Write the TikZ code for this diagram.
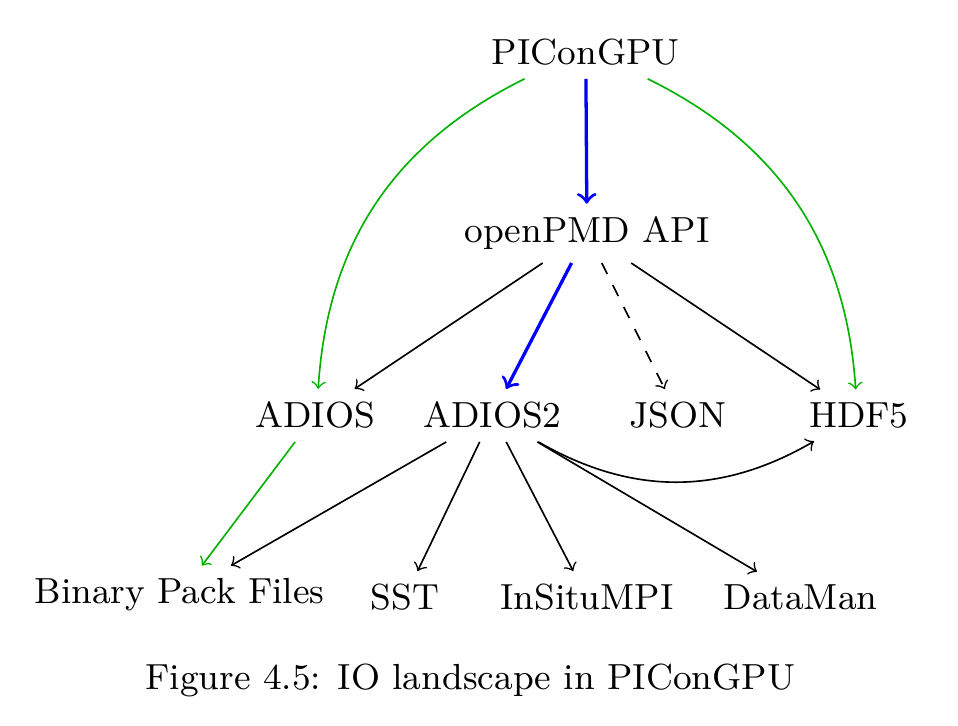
\documentclass[tikz,border=0pt]{standalone}
\usepackage{tikz}
\usetikzlibrary{arrows, positioning}

\begin{document}
\begin{tikzpicture}[
   every node/.style = {font=\fontsize{8.85}{11}\selectfont},
   lib/.style = {inner sep=3pt},
   line/.style = {draw, ->},
   main/.style = {draw, ->, thick, blue},
   alt/.style = {draw, ->, green!70!black}
   ]
  \useasboundingbox (0,0) rectangle (8.21,-6.22);
  % Top level
  \node[lib] (picongpu) at (5.02,-0.45) {PIConGPU};
  \node[lib] (openpmd) at (5.03,-2.0) {openPMD API};

  % Backends
  \node[lib] (adios) at (2.70,-3.56) {ADIOS};
  \node[lib] (adios2) at (4.22,-3.56) {ADIOS2};
  \node[lib] (json) at (5.81,-3.56) {JSON};
  \node[lib] (hdf5) at (7.36,-3.56) {HDF5};

  % Engines
  \node[lib] (bp) at (1.54,-5.10) {Binary Pack Files};
  \node[lib] (sst) at (3.47,-5.12) {SST};
  \node[lib] (insitu) at (5.03,-5.12) {InSituMPI};
  \node[lib] (dataman) at (6.86,-5.12) {DataMan};

  % Caption
  \node (caption) at (4.03,-5.83) {Figure 4.5: IO landscape in PIConGPU};

  % Arrows
  \draw[main] (picongpu) -- (openpmd);
  \draw[main] (openpmd) -- (adios2);
  \draw[alt] (picongpu) to[bend right=30] (adios);
  \draw[alt] (picongpu) to[bend left=30] (hdf5);
  \draw[alt] (adios) -- (bp);
  \draw[line] (openpmd) -- (adios);
  \draw[line, dashed] (openpmd) -- (json);
  \draw[line] (openpmd) -- (hdf5);
  \draw[line] (adios2) to[bend right=30] (hdf5);
  \draw[line] (adios2) -- (bp);
  \draw[line] (adios2) -- (sst);
  \draw[line] (adios2) -- (insitu);
  \draw[line] (adios2) -- (dataman);
\end{tikzpicture}
\end{document}
